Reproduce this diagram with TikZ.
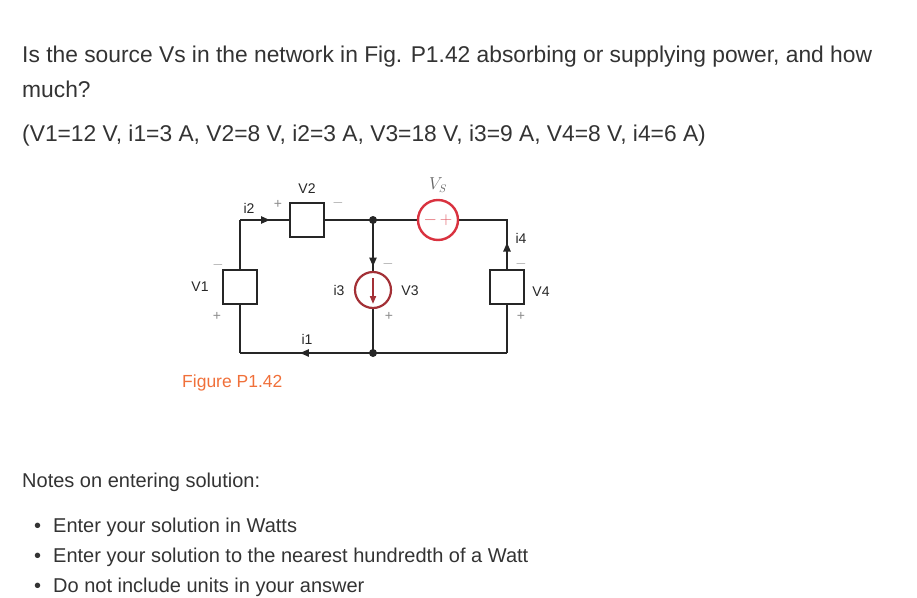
\documentclass[tikz,border=0pt]{standalone}
\usepackage{fontspec}
\setmainfont{Liberation Sans}
\usetikzlibrary{arrows.meta,decorations.markings}
\definecolor{txt}{HTML}{333333}
\definecolor{srcred}{HTML}{D9323F}
\definecolor{darkred}{HTML}{A33036}
\definecolor{figor}{HTML}{F0703A}
\begin{document}
\begin{tikzpicture}[x=1pt,y=-1pt,
  para/.style={anchor=base west,text=txt,font=\fontsize{22.8}{26}\selectfont,inner sep=0},
  note/.style={anchor=base west,text=txt,font=\fontsize{20}{24}\selectfont,inner sep=0},
  wire/.style={line width=2.4pt,black!85},
  comp/.style={draw=black!85,line width=2.4pt,fill=white,minimum width=34pt,minimum height=34pt,inner sep=0},
  lab/.style={font=\fontsize{14}{16}\selectfont,text=black!85,inner sep=1pt},
  pm/.style={font=\fontsize{14}{16}\selectfont,text=black!45,inner sep=0},
  dot/.style={circle,fill=black!85,inner sep=0,minimum size=8pt},
  mid/.style={postaction={decorate},decoration={markings,mark=at position #1 with {\arrow{Triangle[length=9pt,width=7pt]}}}}]
\useasboundingbox (0,0) rectangle (917,597);
\node[para] (q1) at (22,62) {Is the source Vs in the network in Fig. P1.42 absorbing or supplying power, and how};
\node[para] (q2) at (22,97) {much?};
\node[para] (q3) at (22,141) {(V1=12 V, i1=3 A, V2=8 V, i2=3 A, V3=18 V, i3=9 A, V4=8 V, i4=6 A)};
\node[note] (n0) at (22,487) {Notes on entering solution:};
\node[note] (n1) at (34,532) {\textbullet\hspace{12pt}Enter your solution in Watts};
\node[note] (n2) at (34,562) {\textbullet\hspace{12pt}Enter your solution to the nearest hundredth of a Watt};
\node[note] (n3) at (34,592) {\textbullet\hspace{12pt}Do not include units in your answer};
% circuit
\coordinate (tl) at (240,220); \coordinate (tm) at (373,220); \coordinate (tr) at (507,220);
\coordinate (bl) at (240,353); \coordinate (bm) at (373,353); \coordinate (br) at (507,353);
\draw[wire] (bl) -- (tl);
\draw[wire,mid=0.6] (tl) -- (290,220);
\draw[wire] (290,220) -- (tr) -- (br);
\draw[wire] (br) -- (bm);
\draw[wire,mid=0.55] (bm) -- (bl);
\draw[wire,mid=0.35] (tm) -- (bm);
\draw[wire,mid=0.55] (507,270) -- (tr);
\node[comp] (V2) at (307,220) {};
\node[comp] (V1) at (240,287) {};
\node[comp] (V4) at (507,287) {};
\node[circle,draw=srcred,line width=2.4pt,fill=white,minimum size=40pt,inner sep=0] (Vs) at (438,220) {};
\node[text=srcred!80,font=\fontsize{16}{16}\selectfont] (Vspm) at (Vs) {$-\,+$};
\node[circle,draw=darkred,line width=2.2pt,fill=white,minimum size=36pt,inner sep=0] (I3) at (373,290) {};
\draw[darkred,line width=1.8pt,-{Triangle[length=8pt,width=6pt]}] (373,278) -- (373,304);
\node[dot] (d1) at (tm) {}; \node[dot] (d2) at (bm) {};
\node[lab] (lV2) at (307,189) {V2};
\node[lab] (li2) at (249,208) {i2};
\node[lab] (lV1) at (200,287) {V1};
\node[lab] (li1) at (307,339) {i1};
\node[lab] (li3) at (339,290) {i3};
\node[lab] (lV3) at (410,291) {V3};
\node[lab] (li4) at (521,238) {i4};
\node[lab] (lV4) at (541,292) {V4};
\node[text=black!60,font=\fontsize{16}{16}\selectfont] (lVs) at (438,185) {$V_S$};
\node[pm] at (278,204) {+}; \node[pm] at (338,203) {$-$};
\node[pm] at (218,265) {$-$}; \node[pm] at (217,316) {+};
\node[pm] at (388,264) {$-$}; \node[pm] at (389,316) {+};
\node[pm] at (521,264) {$-$}; \node[pm] at (521,316) {+};
\node[anchor=base west,text=figor,font=\fontsize{17.5}{18}\selectfont,inner sep=0] (fig) at (182,387) {Figure P1.42};
\end{tikzpicture}
\end{document}
